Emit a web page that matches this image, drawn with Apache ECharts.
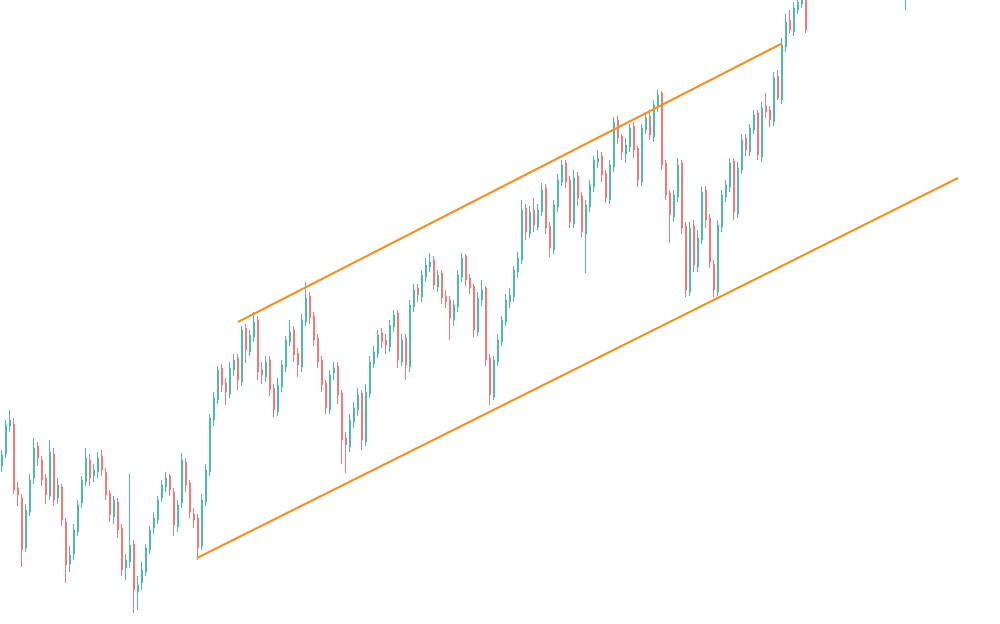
<!DOCTYPE html>
<html>
<head>
<meta charset="utf-8">
<script src="https://cdn.jsdelivr.net/npm/echarts@6/dist/echarts.min.js"></script>
<style>html,body{margin:0;padding:0;background:#fff;}#chart{width:1000px;height:624px;}</style>
</head>
<body>
<div id="chart"></div>
<script>
const opens = [158,170,198,200,136,126,76,112,146,178,164,146,128,170,126,137,102,60,70,92,121,142,164,148,152,168,152,131,107,122,96,56,62,80,32,41,52,74,96,104,126,137,148,132,97,121,162,141,110,106,78,122,152,204,224,256,241,230,254,266,242,296,272,287,304,254,247,264,236,212,237,257,282,294,271,257,302,328,308,286,264,241,214,251,258,231,186,177,202,214,231,182,230,260,270,291,284,277,297,311,262,286,257,317,336,327,347,357,364,337,351,328,324,304,317,347,368,346,338,292,324,336,266,227,262,282,302,322,327,352,364,416,390,414,397,412,436,398,374,417,442,461,444,400,448,428,390,417,437,462,468,451,424,457,504,488,470,477,498,476,442,494,508,487,517,531,461,431,407,427,461,398,332,398,357,384,434,406,360,332,397,427,437,463,410,454,486,472,494,511,467,518,514,502,548,524,577,604,592,614,620,632];
const closes = [169,199,204,134,129,74,114,144,176,166,144,129,172,124,139,104,59,69,94,119,144,166,146,154,166,154,129,109,124,94,54,64,79,34,39,54,76,94,106,124,139,146,134,99,119,164,139,112,104,76,124,154,206,226,254,239,232,256,264,244,294,274,289,302,252,249,262,234,214,239,259,284,292,269,259,304,326,306,284,262,239,216,249,256,229,184,179,204,216,229,184,232,262,272,289,282,279,299,309,264,284,259,319,334,329,349,359,362,339,349,326,322,306,319,349,366,344,336,294,326,334,264,229,264,284,304,324,329,354,366,414,392,412,399,414,434,396,376,419,444,459,442,402,446,426,392,419,439,464,466,449,426,459,502,486,472,479,496,474,444,496,506,489,519,529,459,429,409,429,459,396,334,396,359,386,432,404,362,334,399,429,439,461,412,456,484,474,496,509,469,516,512,504,546,526,579,602,594,616,622,630,594];
const lows = [152,166,192,130,118,57,72,108,140,158,138,120,124,118,120,98,41,52,64,88,116,138,138,142,146,148,124,102,100,86,48,44,56,11,14,34,48,70,90,100,122,132,128,88,92,116,132,106,96,64,74,118,148,198,220,232,219,226,248,234,238,261,268,282,244,240,242,228,207,208,232,252,278,262,247,252,298,300,278,256,232,210,210,244,220,160,151,172,196,208,174,178,226,256,266,276,270,272,292,256,258,244,252,312,322,322,342,352,334,332,320,316,284,298,312,342,338,330,287,288,318,258,219,224,258,278,298,316,322,346,360,384,386,392,394,408,390,367,370,412,438,436,396,396,418,387,351,412,432,456,442,421,420,452,480,464,461,472,466,437,438,490,484,482,512,454,424,381,402,422,390,327,328,352,352,380,396,356,327,328,392,422,432,404,406,450,468,468,490,464,462,506,497,498,524,520,572,591,588,610,616,591];
const highs = [174,204,214,206,142,130,120,150,186,182,168,150,184,176,146,140,106,78,100,124,148,176,170,160,172,174,156,134,128,126,100,70,150,84,48,62,80,98,112,128,144,152,150,136,124,171,166,144,116,110,130,160,210,232,258,260,246,262,270,270,298,300,294,312,308,262,268,268,240,246,264,288,304,298,276,310,342,332,312,290,268,244,254,262,262,234,192,210,222,236,234,240,268,278,294,296,290,304,314,314,290,290,324,340,340,354,366,371,368,354,354,334,328,324,354,371,370,350,340,332,344,338,270,268,290,308,330,336,358,372,424,420,418,426,420,441,440,402,424,450,464,464,448,454,452,432,424,444,468,474,472,454,464,507,508,490,486,500,502,478,500,512,512,524,534,533,464,434,434,466,464,402,402,404,394,437,438,410,364,404,434,444,466,466,462,490,490,500,514,514,522,531,518,552,554,586,610,614,622,630,640,640];
// a lone candle far to the right, mostly above the visible range
const loneIndex = 226;
const lone = [640, 650, 614, 655];
// trendlines: [slot position, price]
const lowerTrend = [[49.25, 66], [239.5, 446]];
const upperTrend = [[59.5, 302], [195.25, 580]];

const SLOTS = 250;
const categories = [];
const candles = [];
for (let i = 0; i < SLOTS; i++) {
  categories.push('D' + (i + 1));
  if (i < closes.length) candles.push([opens[i], closes[i], lows[i], highs[i]]);
  else if (i === loneIndex) candles.push(lone);
  else candles.push('-');
}

const chart = echarts.init(document.getElementById('chart'), null, {renderer: 'canvas'});
chart.setOption({
  animation: false,
  backgroundColor: '#ffffff',
  grid: {left: 0, right: 0, top: 0, bottom: 0},
  xAxis: [
    {type: 'category', data: categories, boundaryGap: true, show: false},
    {type: 'value', min: 0, max: SLOTS, show: false}
  ],
  yAxis: {type: 'value', min: 0, max: 624, show: false},
  series: [
    {
      type: 'candlestick',
      data: candles,
      xAxisIndex: 0,
      barWidth: 2.2,
      clip: true,
      itemStyle: {
        color: '#4fbaa6', color0: '#f07a7a',
        borderColor: '#4fbaa6', borderColor0: '#f07a7a',
        borderWidth: 1
      }
    },
    {
      type: 'line', xAxisIndex: 1, data: lowerTrend, symbol: 'none',
      lineStyle: {color: '#f0922a', width: 2}, silent: true
    },
    {
      type: 'line', xAxisIndex: 1, data: upperTrend, symbol: 'none',
      lineStyle: {color: '#f0922a', width: 2}, silent: true
    }
  ]
});
</script>
</body>
</html>
